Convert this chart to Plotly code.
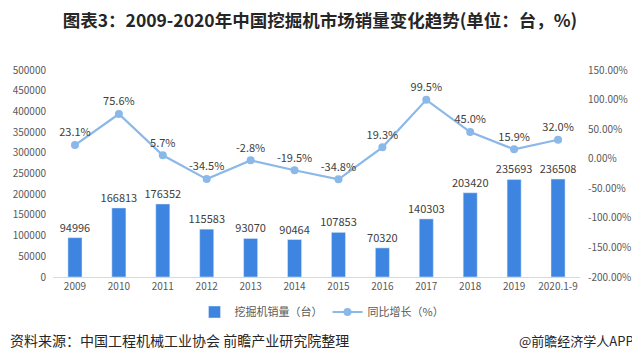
import plotly.graph_objects as go

categories = ["2009", "2010", "2011", "2012", "2013", "2014", "2015", "2016", "2017", "2018", "2019", "2020.1-9"]
sales = [94996, 166813, 176352, 115583, 93070, 90464, 107853, 70320, 140303, 203420, 235693, 236508]
growth = [23.1, 75.6, 5.7, -34.5, -2.8, -19.5, -34.8, 19.3, 99.5, 45.0, 15.9, 32.0]
left_ticks = [0, 50000, 100000, 150000, 200000, 250000, 300000, 350000, 400000, 450000, 500000]
right_ticks = [-200, -150, -100, -50, 0, 50, 100, 150]
right_tick_text = ["%.2f%%" % v for v in right_ticks]

FONT = "Noto Sans CJK SC"
TICK_COLOR = "#595959"
# page has an 8px body margin; figure is sized so it fills the 640x364 window
OFF = 8
W, H = 640 - OFF, 364 - OFF
L, R, T, B = 53 - OFF, 640 - 580, 70 - OFF, 364 - 277
PW, PH = W - L - R, H - T - B

fig = go.Figure()
fig.add_trace(go.Bar(
    x=categories, y=sales, name="挖掘机销量（台）",
    marker_color="#3d85e0", width=0.32,
    text=[str(v) for v in sales], textposition="outside", constraintext="none",
    textfont=dict(size=11, color="#404040", family=FONT),
    cliponaxis=False,
))
fig.add_trace(go.Scatter(
    x=categories, y=growth, name="同比增长（%）", yaxis="y2",
    mode="lines+markers+text",
    line=dict(color="#8ab8e8", width=2.2),
    marker=dict(size=8, color="#8ab8e8"),
    text=["%.1f%%" % v for v in growth], textposition="top center",
    textfont=dict(size=11, color="#404040", family=FONT),
    cliponaxis=False,
))

fig.update_layout(
    width=W, height=H,
    margin=dict(l=L, r=R, t=T, b=B, autoexpand=False),
    paper_bgcolor="white", plot_bgcolor="white",
    font=dict(family=FONT, color=TICK_COLOR),
    title=dict(text="<b>图表3：2009-2020年中国挖掘机市场销量变化趋势(单位：台，%)</b>",
               x=(320 - OFF) / W, xanchor="center", y=1 - (21 - OFF) / H, yanchor="middle",
               font=dict(size=17.5, color="#262626", family=FONT)),
    xaxis=dict(range=[-0.5, 11.5], domain=[0, 1], showgrid=False, showline=True,
               linecolor="#d9d9d9", linewidth=1,
               tickfont=dict(size=10, color=TICK_COLOR), ticks="", automargin=False),
    yaxis=dict(range=[0, 500000], tickvals=left_ticks, ticktext=[str(v) for v in left_ticks],
               showgrid=False, zeroline=False, automargin=False,
               tickfont=dict(size=10, color=TICK_COLOR), ticks="", ticklabelstandoff=6),
    yaxis2=dict(range=[-200, 150], tickvals=right_ticks, ticktext=right_tick_text,
                overlaying="y", side="right", showgrid=False, zeroline=False, automargin=False,
                tickfont=dict(size=10, color=TICK_COLOR), ticks="", ticklabelstandoff=7),
    legend=dict(orientation="h", x=(322 - OFF - L) / PW, xanchor="center", y=-35 / PH, yanchor="middle",
                font=dict(size=11, color=TICK_COLOR), itemwidth=30),
    bargap=0.5,
    showlegend=True,
)
fig.add_annotation(text="资料来源：中国工程机械工业协会 前瞻产业研究院整理",
                   xref="paper", yref="paper", x=-L / PW, y=-63 / PH, xanchor="left", yanchor="middle",
                   showarrow=False, font=dict(size=14, color="#262626", family=FONT))
fig.add_annotation(text="@前瞻经济学人APP",
                   xref="paper", yref="paper", x=1 + (R - 4) / PW, y=-63 / PH, xanchor="right", yanchor="middle",
                   showarrow=False, font=dict(size=13, color="#262626", family=FONT))

fig.write_html("out.html")
